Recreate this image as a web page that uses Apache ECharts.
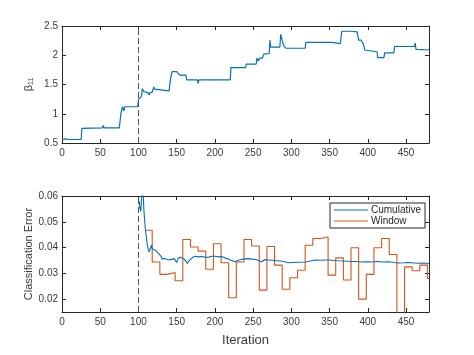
<!DOCTYPE html>
<html>
<head>
<meta charset="utf-8">
<script src="https://cdn.jsdelivr.net/npm/echarts@6/dist/echarts.min.js"></script>
<style>
html,body{margin:0;padding:0;background:#fff;}
#c{width:474px;height:355px;}
</style>
</head>
<body>
<div id="c"></div>
<script>
// ---- data ----
var xTicks = [0, 50, 100, 150, 200, 250, 300, 350, 400, 450];
var betaTicks = [0.5, 1, 1.5, 2, 2.5];
var errTicks = [0.02, 0.03, 0.04, 0.05, 0.06];

var betaIter = [0, 2, 5, 8, 25, 26, 27, 53, 54, 55, 75, 77, 79, 80, 81, 82, 99, 100, 102, 104, 105, 107, 112, 114, 115, 118, 120, 121, 122, 140, 142, 144, 150, 152, 154, 162, 163, 177, 178, 179, 220, 221, 240, 241, 254, 255, 257, 258, 262, 263, 264, 271, 272, 273, 285, 286, 288, 290, 293, 318, 319, 353, 355, 364, 366, 378, 386, 388, 391, 392, 394, 396, 398, 412, 413, 421, 422, 434, 435, 461, 462, 463, 480];
var betaVal = [0.56, 0.58, 0.57, 0.56, 0.56, 0.75, 0.76, 0.76, 0.80, 0.76, 0.76, 1.0, 1.12, 1.14, 1.05, 1.12, 1.12, 1.24, 1.25, 1.30, 1.43, 1.38, 1.36, 1.32, 1.36, 1.37, 1.46, 1.42, 1.39, 1.39, 1.60, 1.72, 1.72, 1.70, 1.66, 1.66, 1.58, 1.58, 1.52, 1.58, 1.58, 1.79, 1.79, 1.85, 1.85, 1.95, 1.90, 1.95, 1.95, 1.92, 2.02, 2.03, 2.26, 2.14, 2.14, 2.36, 2.25, 2.16, 2.12, 2.12, 2.22, 2.22, 2.20, 2.20, 2.41, 2.41, 2.40, 2.26, 2.26, 2.23, 2.20, 2.09, 2.06, 2.06, 1.96, 1.96, 2.04, 2.04, 2.15, 2.15, 2.21, 2.10, 2.09];

var cumIter = [100, 101, 102, 103, 104, 105, 106, 107, 108, 109, 110, 112, 114, 116, 117, 118, 120, 122, 124, 126, 128, 130, 131, 133, 135, 137, 139, 141, 143, 145, 147, 148, 150, 152, 153, 155, 157, 160, 162, 164, 166, 168, 171, 174, 178, 183, 188, 192, 196, 200, 205, 209, 213, 218, 222, 226, 230, 235, 240, 244, 248, 253, 257, 261, 265, 270, 275, 279, 285, 290, 296, 302, 310, 318, 325, 331, 338, 345, 349, 356, 362, 370, 377, 384, 392, 400, 405, 412, 420, 427, 434, 440, 447, 452, 458, 465, 472, 480];
var cumErr = [0.057, 0.058, 0.055, 0.054, 0.059, 0.062, 0.063, 0.055, 0.051, 0.047, 0.0447, 0.0402, 0.0383, 0.0400, 0.0409, 0.0395, 0.0396, 0.0390, 0.0383, 0.0377, 0.0372, 0.0365, 0.0355, 0.0362, 0.0358, 0.0357, 0.0352, 0.0358, 0.0354, 0.0352, 0.0356, 0.0354, 0.0342, 0.0358, 0.0364, 0.0362, 0.0360, 0.0355, 0.0348, 0.0338, 0.0348, 0.0355, 0.0362, 0.0366, 0.0364, 0.0365, 0.0362, 0.0363, 0.0366, 0.0366, 0.0364, 0.0365, 0.0360, 0.0355, 0.0350, 0.0345, 0.0350, 0.0354, 0.0356, 0.0357, 0.0355, 0.0354, 0.0350, 0.0345, 0.0353, 0.0352, 0.0351, 0.0350, 0.0348, 0.0346, 0.0341, 0.0342, 0.0343, 0.0344, 0.0348, 0.0352, 0.0351, 0.0352, 0.0352, 0.0350, 0.0349, 0.0348, 0.0346, 0.0346, 0.0344, 0.0345, 0.0344, 0.0346, 0.0344, 0.0345, 0.0342, 0.0340, 0.0341, 0.0342, 0.0341, 0.0339, 0.0340, 0.0338];

var winIter = [109, 118, 128, 138, 148, 158, 168, 178, 188, 198, 208, 218, 228, 238, 248, 258, 268, 278, 288, 298, 308, 318, 328, 338, 348, 358, 368, 378, 388, 398, 408, 418, 428, 438, 448, 458, 468, 478, 480];
var winErr = [0.0467, 0.0344, 0.0296, 0.0303, 0.0271, 0.0431, 0.0402, 0.0386, 0.0316, 0.0415, 0.0341, 0.0205, 0.0344, 0.0431, 0.0406, 0.0235, 0.0404, 0.0332, 0.0238, 0.0283, 0.0312, 0.0409, 0.0435, 0.0441, 0.0293, 0.0360, 0.0274, 0.0399, 0.0200, 0.0296, 0.0399, 0.0435, 0.0373, 0.0120, 0.0325, 0.0310, 0.0332, 0.0280, 0.0280];

var startIter = 100;

function pairs(xs, ys) { return xs.map(function (x, i) { return [x, ys[i]]; }); }

var AX = '#262626';
var LBL = '#3a3a3a';
var FONT = 'Liberation Sans, Arial, sans-serif';
var BLUE = '#0072BD';
var ORANGE = '#D95319';

function xAx(grid, pos, labels, name) {
  return {
    type: 'value', gridIndex: grid, position: pos, min: 0, max: 480,
    axisLine: { show: true, onZero: false, lineStyle: { color: AX, width: 1 } },
    axisTick: { show: true, inside: true, length: 4, customValues: xTicks, lineStyle: { color: AX } },
    axisLabel: { show: labels, customValues: xTicks, color: LBL, fontSize: 10, fontFamily: FONT, margin: 5 },
    splitLine: { show: false },
    name: name || '', nameLocation: 'middle', nameGap: 22, nameMoveOverlap: false,
    nameTextStyle: { color: LBL, fontSize: 13, fontFamily: FONT }
  };
}
function yAx(grid, pos, labels, min, max, ticks, fmt, name, gap) {
  return {
    type: 'value', gridIndex: grid, position: pos, min: min, max: max,
    axisLine: { show: true, onZero: false, lineStyle: { color: AX, width: 1 } },
    axisTick: { show: true, inside: true, length: 4, customValues: ticks, lineStyle: { color: AX } },
    axisLabel: { show: labels, customValues: ticks, color: LBL, fontSize: 10, fontFamily: FONT, margin: 4, formatter: fmt },
    splitLine: { show: false },
    name: name || '', nameLocation: 'middle', nameRotate: 90, nameGap: gap || 24, nameMoveOverlap: false,
    nameTextStyle: { color: LBL, fontSize: 11, fontFamily: FONT,
      rich: { b: { fontSize: 11, fontFamily: FONT, color: LBL }, s: { fontSize: 7, fontFamily: FONT, color: LBL, verticalAlign: 'bottom', padding: [6, 0, 0, 0] } } }
  };
}

var dash = {
  silent: true, symbol: 'none', animation: false,
  label: { show: false },
  lineStyle: { color: '#555', type: [6, 3], width: 1 },
  data: [{ xAxis: startIter }]
};

var chart = echarts.init(document.getElementById('c'), null, { renderer: 'canvas' });
chart.setOption({
  animation: false,
  backgroundColor: '#fff',
  grid: [
    { left: 62, top: 26, width: 367, height: 117 },
    { left: 62, top: 196, width: 367, height: 116 }
  ],
  xAxis: [
    xAx(0, 'bottom', true),
    xAx(0, 'top', false),
    xAx(1, 'bottom', true, 'Iteration'),
    xAx(1, 'top', false)
  ],
  yAxis: [
    yAx(0, 'left', true, 0.5, 2.5, betaTicks, function (v) { return String(v); }, '{b|β}{s|11}', 27),
    yAx(0, 'right', false, 0.5, 2.5, betaTicks, null),
    yAx(1, 'left', true, 0.015, 0.06, errTicks, function (v) { return v.toFixed(2); }, 'Classification Error', 28),
    yAx(1, 'right', false, 0.015, 0.06, errTicks, null)
  ],
  legend: {
    orient: 'vertical', left: 330, top: 203,
    data: ['Cumulative', 'Window'],
    itemWidth: 34, itemHeight: 8, itemGap: 1,
    padding: [2, 4, 2, 4],
    borderColor: AX, borderWidth: 1, backgroundColor: '#fff',
    icon: 'path://M0,4L34,4L34,5L0,5Z',
    textStyle: { color: AX, fontSize: 10, fontFamily: FONT, padding: [0, 0, 0, -2] }
  },
  series: [
    {
      name: 'beta', type: 'line', xAxisIndex: 0, yAxisIndex: 0,
      data: pairs(betaIter, betaVal), showSymbol: false, clip: true,
      lineStyle: { color: BLUE, width: 1.2 }, itemStyle: { color: BLUE },
      markLine: dash
    },
    {
      name: 'Cumulative', type: 'line', xAxisIndex: 2, yAxisIndex: 2,
      data: pairs(cumIter, cumErr), showSymbol: false, clip: true,
      lineStyle: { color: BLUE, width: 1.1 }, itemStyle: { color: BLUE },
      markLine: dash, z: 3
    },
    {
      name: 'Window', type: 'line', xAxisIndex: 2, yAxisIndex: 2, step: 'end',
      data: pairs(winIter, winErr), showSymbol: false, clip: true,
      lineStyle: { color: ORANGE, width: 1.1 }, itemStyle: { color: ORANGE }, z: 2
    }
  ]
});
</script>
</body>
</html>
